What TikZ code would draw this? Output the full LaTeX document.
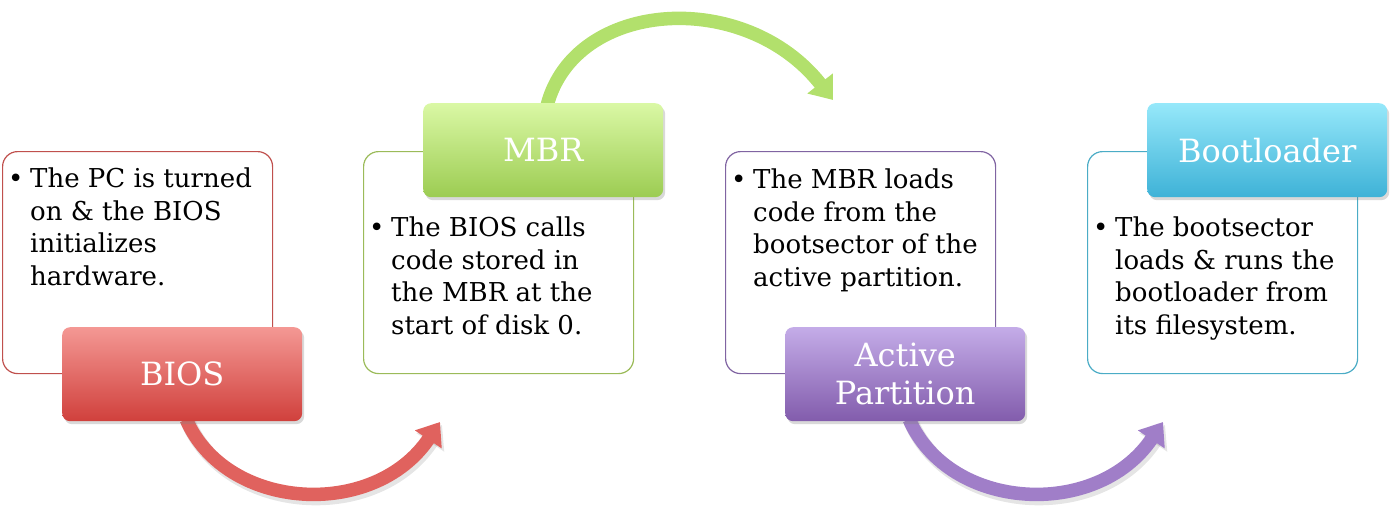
\documentclass[tikz,border=0pt]{standalone}
\usepackage{fontspec}
\setmainfont{DejaVu Serif}
\usetikzlibrary{arrows.meta,shadows,backgrounds}
\definecolor{redline}{RGB}{192,80,77}
\definecolor{redtop}{RGB}{244,152,148}
\definecolor{redbot}{RGB}{208,64,60}
\definecolor{redarrow}{RGB}{224,98,94}
\definecolor{greenline}{RGB}{155,187,89}
\definecolor{greentop}{RGB}{218,248,165}
\definecolor{greenbot}{RGB}{156,204,82}
\definecolor{greenarrow}{RGB}{178,224,108}
\definecolor{purpline}{RGB}{128,100,162}
\definecolor{purptop}{RGB}{196,172,232}
\definecolor{purpbot}{RGB}{130,92,172}
\definecolor{purparrow}{RGB}{160,126,200}
\definecolor{cyanline}{RGB}{75,172,198}
\definecolor{cyantop}{RGB}{150,232,250}
\definecolor{cyanbot}{RGB}{62,178,215}
\newcommand{\bul}{\makebox[22pt][l]{•}}
\newcommand{\ii}{\hspace*{22pt}}
\tikzset{
  outbox/.style={draw=#1, line width=1.2pt, rounded corners=15pt, fill=white,
    minimum width=270pt, minimum height=222pt, inner sep=0pt, anchor=north west},
  lbl/.style 2 args={top color=#1, bottom color=#2, draw=none, rounded corners=8pt,
    minimum width=240pt, minimum height=94pt, inner sep=0pt, anchor=north west,
    text=white, align=center, font=\fontsize{32}{38}\selectfont,
    drop shadow={opacity=0.3, shadow xshift=2pt, shadow yshift=-3pt}},
  body/.style={anchor=base west, align=left, inner sep=0pt,
    font=\fontsize{26}{32.5}\selectfont},
  arr/.style={draw=#1, line width=13.5pt, -{Triangle[width=31pt,length=21pt]}},
  arrsh/.style={draw=black, opacity=0.10, line width=15pt, -{Triangle[width=32pt,length=21pt]}}
}
\begin{document}
\begin{tikzpicture}[x=1pt,y=-1pt]
\useasboundingbox (0,0) rectangle (1395,525);
% boxes
\node[outbox=redline] (t1) at (2,151) {};
\node[outbox=greenline] (t2) at (363,151) {};
\node[outbox=purpline] (t3) at (725,151) {};
\node[outbox=cyanline] (t4) at (1087,151) {};
% body texts (anchor is the baseline of the last line)
\node[body] (b1) at (8,285) {\bul The PC is turned\\ \ii on \& the BIOS\\ \ii initializes\\ \ii hardware.};
\node[body] (b2) at (369,334) {\bul The BIOS calls\\ \ii code stored in\\ \ii the MBR at the\\ \ii start of disk 0.};
\node[body] (b3) at (731,286) {\bul The MBR loads\\ \ii code from the\\ \ii bootsector of the\\ \ii active partition.};
\node[body] (b4) at (1093,334) {\bul The bootsector\\ \ii loads \& runs the\\ \ii bootloader from\\ \ii its filesystem.};
% labels
\node[lbl={redtop}{redbot}] (l1) at (62,327) {BIOS};
\node[lbl={greentop}{greenbot}] (l2) at (423,103) {MBR};
\node[lbl={purptop}{purpbot}] (l3) at (785,327) {Active\\Partition};
\node[lbl={cyantop}{cyanbot}] (l4) at (1147,103) {Bootloader};
\coordinate (e1) at (440,422);
\coordinate (e2) at (833,100);
\coordinate (e3) at (1163,422);
\begin{scope}[on background layer]
\draw[arrsh] ([xshift=6pt,yshift=-1pt]l1.south) .. controls +(40,92) and (376,524) .. ([xshift=2pt,yshift=-3pt]e1);
\draw[arr=redarrow] ([xshift=4pt,yshift=2pt]l1.south) .. controls +(40,92) and (374,520) .. (e1);
\draw[arr=greenarrow] ([xshift=4pt,yshift=-2pt]l2.north) .. controls +(28,-106) and (745,-12) .. (e2);
\draw[arrsh] ([xshift=6pt,yshift=-1pt]l3.south) .. controls +(40,92) and (1099,524) .. ([xshift=2pt,yshift=-3pt]e3);
\draw[arr=purparrow] ([xshift=4pt,yshift=2pt]l3.south) .. controls +(40,92) and (1097,520) .. (e3);
\end{scope}
\end{tikzpicture}
\end{document}
